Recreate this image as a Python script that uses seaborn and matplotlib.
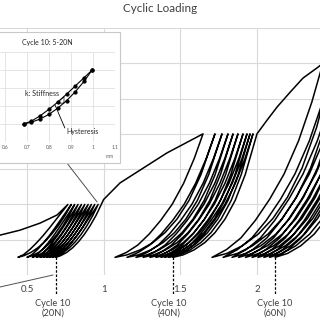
import numpy as np
import pandas as pd
import matplotlib
matplotlib.use("Agg")
import matplotlib.pyplot as plt
from matplotlib.patches import Rectangle
import seaborn as sns

sns.set_style("white")
plt.rcParams["font.family"] = ["Liberation Sans Narrow", "Lato", "DejaVu Sans"]

# values (x in mm, force in N)
lead_x = [0.20, 0.324, 0.454, 0.585, 0.696, 0.767]
lead_f = [9.6, 11.3, 12.7, 14.7, 17.0, 20.0]

peaks_20 = [0.767, 0.789, 0.811, 0.833, 0.855, 0.877, 0.899, 0.920, 0.942, 0.964, 0.985]
valleys_20 = [0.441, 0.500, 0.535, 0.562, 0.585, 0.606, 0.626, 0.645, 0.665, 0.686]

ramp_40_x = [0.985, 1.000, 1.107, 1.237, 1.413, 1.648]
ramp_40_f = [20.0, 21.4, 26.1, 29.7, 34.6, 40.0]

peaks_40 = [1.648, 1.726, 1.772, 1.811, 1.844, 1.876, 1.909, 1.935, 1.955, 1.974, 2.000]
valleys_40 = [1.074, 1.152, 1.211, 1.257, 1.302, 1.341, 1.374, 1.400, 1.426, 1.452]

ramp_60_x = [2.000, 2.066, 2.131, 2.216, 2.300, 2.398, 2.430]
ramp_60_f = [40.0, 43.9, 47.6, 51.8, 55.8, 58.9, 60.0]

peaks_60 = [2.430, 2.500, 2.550, 2.590, 2.630, 2.660, 2.690, 2.720, 2.745, 2.770, 2.790]
valleys_60 = [1.707, 1.779, 1.837, 1.880, 1.925, 1.968, 2.007, 2.045, 2.082, 2.118]

cycle10_x = [0.686, 1.452, 2.118]
cycle10_lbl_x = [0.670, 1.426, 2.118]
cycle10_txt = ["Cycle 10\n(20N)", "Cycle 10\n(40N)", "Cycle 10\n(60N)"]

# inset: cycle 10 of the 5-20N block
in_load_x = [0.684, 0.720, 0.760, 0.800, 0.840, 0.880, 0.920, 0.960, 0.996]
in_load_f = [5.0, 5.5, 6.4, 7.7, 9.4, 11.5, 14.0, 16.9, 20.0]
in_unload_x = [0.996, 0.960, 0.920, 0.880, 0.840, 0.800, 0.760, 0.720, 0.684]
in_unload_f = [20.0, 17.9, 15.6, 13.3, 11.1, 9.1, 7.3, 5.8, 5.0]

# loop shape of the 40N / 60N blocks (fraction of loop width / height)
big_load_u = [0.0, 0.12, 0.25, 0.38, 0.50, 0.62, 0.74, 0.86, 1.0]
big_load_v = [0.0, 0.02, 0.06, 0.12, 0.20, 0.31, 0.46, 0.67, 1.0]
big_unload_u = [1.0, 0.90, 0.78, 0.65, 0.52, 0.39, 0.26, 0.13, 0.0]
big_unload_v = [1.0, 0.80, 0.60, 0.43, 0.30, 0.19, 0.10, 0.04, 0.0]


def norm(xs, fs):
    x0, x1 = xs[0], xs[-1]
    if x0 > x1:
        x0, x1 = x1, x0
    u = [(x - x0) / (x1 - x0) for x in xs]
    v = [(f - 5.0) / 15.0 for f in fs]
    return u, v


small_load_u, small_load_v = norm(in_load_x, in_load_f)
small_unload_u, small_unload_v = norm(in_unload_x, in_unload_f)


def block(peaks, valleys, f_hi, lu, lv, uu, uv, f_lo=5.0):
    xs, fs = [], []
    for i, v in enumerate(valleys):
        p0, p1 = peaks[i], peaks[i + 1]
        xs += [v + a * (p0 - v) for a in uu]
        fs += [f_lo + b * (f_hi - f_lo) for b in uv]
        xs += [v + a * (p1 - v) for a in lu]
        fs += [f_lo + b * (f_hi - f_lo) for b in lv]
    return xs, fs


path_x, path_f = list(lead_x), list(lead_f)
bx, bf = block(peaks_20, valleys_20, 20.0, small_load_u, small_load_v,
               small_unload_u, small_unload_v)
path_x += bx; path_f += bf
path_x += ramp_40_x; path_f += ramp_40_f
bx, bf = block(peaks_40, valleys_40, 40.0, big_load_u, big_load_v,
               big_unload_u, big_unload_v)
path_x += bx; path_f += bf
path_x += ramp_60_x; path_f += ramp_60_f
bx, bf = block(peaks_60, valleys_60, 60.0, big_load_u, big_load_v,
               big_unload_u, big_unload_v)
path_x += bx; path_f += bf

df = pd.DataFrame({"x": path_x, "f": path_f})

fig = plt.figure(figsize=(3.2, 3.2), dpi=100)
ax = fig.add_axes([0, 45 / 320, 1, 247 / 320])
ax.set_zorder(0)

sns.lineplot(data=df, x="x", y="f", sort=False, estimator=None,
             color="black", lw=1.1, ax=ax)

ax.set_xlim(0.324, 2.411)
ax.set_ylim(0, 70)
ax.set_xticks([0.5, 1, 1.5, 2])
ax.set_xticklabels(["0.5", "1", "1.5", "2"])
ax.set_yticks(range(0, 71, 10))
ax.tick_params(length=0, pad=7, labelsize=7, colors="#404040", labelleft=False)
ax.grid(True, color="#d9d9d9", lw=0.8)
ax.set_xlabel("")
ax.set_ylabel("")
for s in ax.spines.values():
    s.set_visible(False)

for xd, xl, t in zip(cycle10_x, cycle10_lbl_x, cycle10_txt):
    ax.plot([xd, xd], [5, -5.5], color="black", lw=0.9, ls=(0, (2, 1.4)), clip_on=False)
    ax.text(xl, -9.4, t, ha="center", va="center", fontsize=6.7,
            linespacing=1.15, color="#404040", clip_on=False)

# leader lines
ax.plot([0.761, 0.957], [31.7, 20.7], color="#505050", lw=0.7, clip_on=False)
ax.plot([0.324, 0.67], [-3.4, 0.0], color="#505050", lw=0.7, clip_on=False)

fig.text(0.5, 1 - 9 / 320, "Cyclic Loading", ha="center", va="center",
         fontsize=8.4, color="#404040")

# inset chart
box = Rectangle((-0.02, 1 - 163 / 320), 0.395, 131 / 320, transform=fig.transFigure,
                facecolor="white", edgecolor="#c8c8c8", lw=0.8, zorder=2)
fig.patches.append(box)

ins = fig.add_axes([0, 1 - 142 / 320, 115 / 320, 90 / 320])
ins.set_zorder(3)
ins.patch.set_alpha(0)
sns.lineplot(x=in_load_x, y=in_load_f, sort=False, estimator=None, color="black",
             lw=0.8, marker="o", ms=2.3, mec="black", ax=ins)
sns.lineplot(x=in_unload_x, y=in_unload_f, sort=False, estimator=None, color="black",
             lw=0.8, marker="o", ms=2.3, mec="black", ax=ins)
ins.plot([0.835, 0.868, 0.868, 0.835], [10.8, 10.8, 12.6, 10.8], color="black", lw=0.5)
ins.plot([0.872, 0.827], [3.9, 10.3], color="black", lw=0.6)
ins.text(0.766, 13.6, "k: Stiffness", ha="center", va="center", fontsize=5, color="#262626")
ins.text(0.952, 2.8, "Hysteresis", ha="center", va="center", fontsize=5, color="#262626")
ins.set_xlim(0.577, 1.1)
ins.set_ylim(0, 25)
ins.set_xticks([0.6, 0.7, 0.8, 0.9, 1.0, 1.1])
ins.set_xticklabels(["0.6", "0.7", "0.8", "0.9", "1", "1.1"])
ins.set_yticks(range(0, 26, 5))
ins.tick_params(length=0, pad=2, labelsize=3.5, colors="#595959", labelleft=False)
ins.grid(True, color="#e0e0e0", lw=0.6)
for s in ins.spines.values():
    s.set_visible(False)

fig.text(47.5 / 320, 1 - 42 / 320, "Cycle 10: 5-20N", ha="center", va="center",
         fontsize=5, color="#262626", zorder=4)
fig.text(110 / 320, 1 - 157 / 320, "mm", ha="center", va="center",
         fontsize=3.5, color="#595959", zorder=4)

fig.savefig("out.png", dpi=100)
